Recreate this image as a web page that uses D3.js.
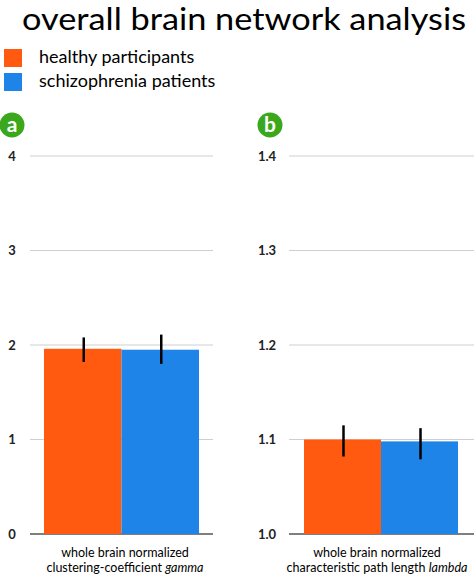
<!DOCTYPE html>
<html>
<head>
<meta charset="utf-8">
<script src="https://cdn.jsdelivr.net/npm/d3@7"></script>
<style>
  body { margin: 0; background: #fff; }
  svg { display: block; font-family: Lato, "Open Sans", sans-serif; }
</style>
</head>
<body>
<div id="chart"></div>
<script>
// data
var groups = ['healthy participants', 'schizophrenia patients'];
var groupColors = ['#ff5a10', '#1e84e8'];

var gammaMeans = [1.96, 1.95];
var gammaLow = [1.82, 1.80];
var gammaHigh = [2.08, 2.11];
var gammaTicks = [0, 1, 2, 3, 4];

var lambdaMeans = [1.100, 1.098];
var lambdaLow = [1.082, 1.079];
var lambdaHigh = [1.115, 1.112];
var lambdaTicks = [1.0, 1.1, 1.2, 1.3, 1.4];

var width = 474, height = 577;

var svg = d3.select('#chart').append('svg')
    .attr('width', width)
    .attr('height', height);

svg.append('text')
    .attr('x', 22)
    .attr('y', 30)
    .attr('textLength', 444)
    .attr('lengthAdjust', 'spacingAndGlyphs')
    .attr('font-size', 30)
    .attr('fill', '#000')
    .text('overall brain network analysis');

// legend
var legend = svg.selectAll('.legend')
    .data(groups).enter().append('g')
    .attr('class', 'legend')
    .attr('transform', function(d, i) { return 'translate(4,' + (49 + i * 24) + ')'; });
legend.append('rect')
    .attr('width', 18)
    .attr('height', 18)
    .attr('fill', function(d, i) { return groupColors[i]; });
legend.append('text')
    .attr('x', 35)
    .attr('y', 14)
    .attr('font-size', 18)
    .text(function(d) { return d; });

var panels = [
  {badge: 'a', means: gammaMeans, low: gammaLow, high: gammaHigh, ticks: gammaTicks,
   fmt: d3.format('d'), x0: 44, x1: 199, gx0: 30, gx1: 213, labelX: 12, badgeX: 12, catX: 125,
   lines: ['whole brain normalized', 'clustering-coefficient ', 'gamma']},
  {badge: 'b', means: lambdaMeans, low: lambdaLow, high: lambdaHigh, ticks: lambdaTicks,
   fmt: d3.format('.1f'), x0: 304, x1: 458, gx0: 289, gx1: 474, labelX: 267, badgeX: 270, catX: 377,
   lines: ['whole brain normalized', 'characteristic path length ', 'lambda']}
];

panels.forEach(function(p) {
  var g = svg.append('g');

  var y = d3.scaleLinear()
      .domain([p.ticks[0], p.ticks[p.ticks.length - 1]])
      .range([534, 156]);
  var x = d3.scaleBand()
      .domain(groups)
      .range([p.x0, p.x1])
      .padding(0);

  // badge
  g.append('circle')
      .attr('cx', p.badgeX)
      .attr('cy', 125)
      .attr('r', 12.5)
      .attr('fill', '#3aa71c');
  g.append('text')
      .attr('x', p.badgeX)
      .attr('y', 132)
      .attr('text-anchor', 'middle')
      .attr('font-size', 21)
      .attr('font-weight', 'bold')
      .attr('fill', '#fff')
      .text(p.badge);

  // grid lines and tick labels
  var tick = g.selectAll('.tick')
      .data(p.ticks).enter().append('g')
      .attr('class', 'tick')
      .attr('transform', function(d) { return 'translate(0,' + y(d) + ')'; });
  tick.append('line')
      .attr('x1', p.gx0)
      .attr('x2', p.gx1)
      .attr('stroke', function(d, i) { return i === 0 ? '#555' : '#cfcfcf'; })
      .attr('stroke-width', function(d, i) { return i === 0 ? 1.5 : 1; });
  tick.append('text')
      .attr('x', p.labelX)
      .attr('dy', '0.35em')
      .attr('text-anchor', 'middle')
      .attr('font-size', 13)
      .attr('font-weight', 'bold')
      .attr('fill', '#222')
      .text(function(d) { return p.fmt(d); });

  // bars
  g.selectAll('.bar')
      .data(groups).enter().append('rect')
      .attr('class', 'bar')
      .attr('x', function(d) { return x(d); })
      .attr('width', x.bandwidth())
      .attr('y', function(d, i) { return y(p.means[i]); })
      .attr('height', function(d, i) { return y(p.ticks[0]) - y(p.means[i]); })
      .attr('fill', function(d, i) { return groupColors[i]; });

  // error bars
  g.selectAll('.err')
      .data(groups).enter().append('line')
      .attr('class', 'err')
      .attr('x1', function(d) { return x(d) + x.bandwidth() / 2 + 1; })
      .attr('x2', function(d) { return x(d) + x.bandwidth() / 2 + 1; })
      .attr('y1', function(d, i) { return y(p.high[i]); })
      .attr('y2', function(d, i) { return y(p.low[i]); })
      .attr('stroke', '#000')
      .attr('stroke-width', 2.5);

  // category label
  g.append('text')
      .attr('x', p.catX)
      .attr('y', 557)
      .attr('text-anchor', 'middle')
      .attr('font-size', 12.5)
      .text(p.lines[0]);
  var t2 = g.append('text')
      .attr('x', p.catX)
      .attr('y', 572)
      .attr('text-anchor', 'middle')
      .attr('font-size', 12.5);
  t2.append('tspan').text(p.lines[1]);
  t2.append('tspan').attr('font-style', 'italic').text(p.lines[2]);
});
</script>
</body>
</html>
